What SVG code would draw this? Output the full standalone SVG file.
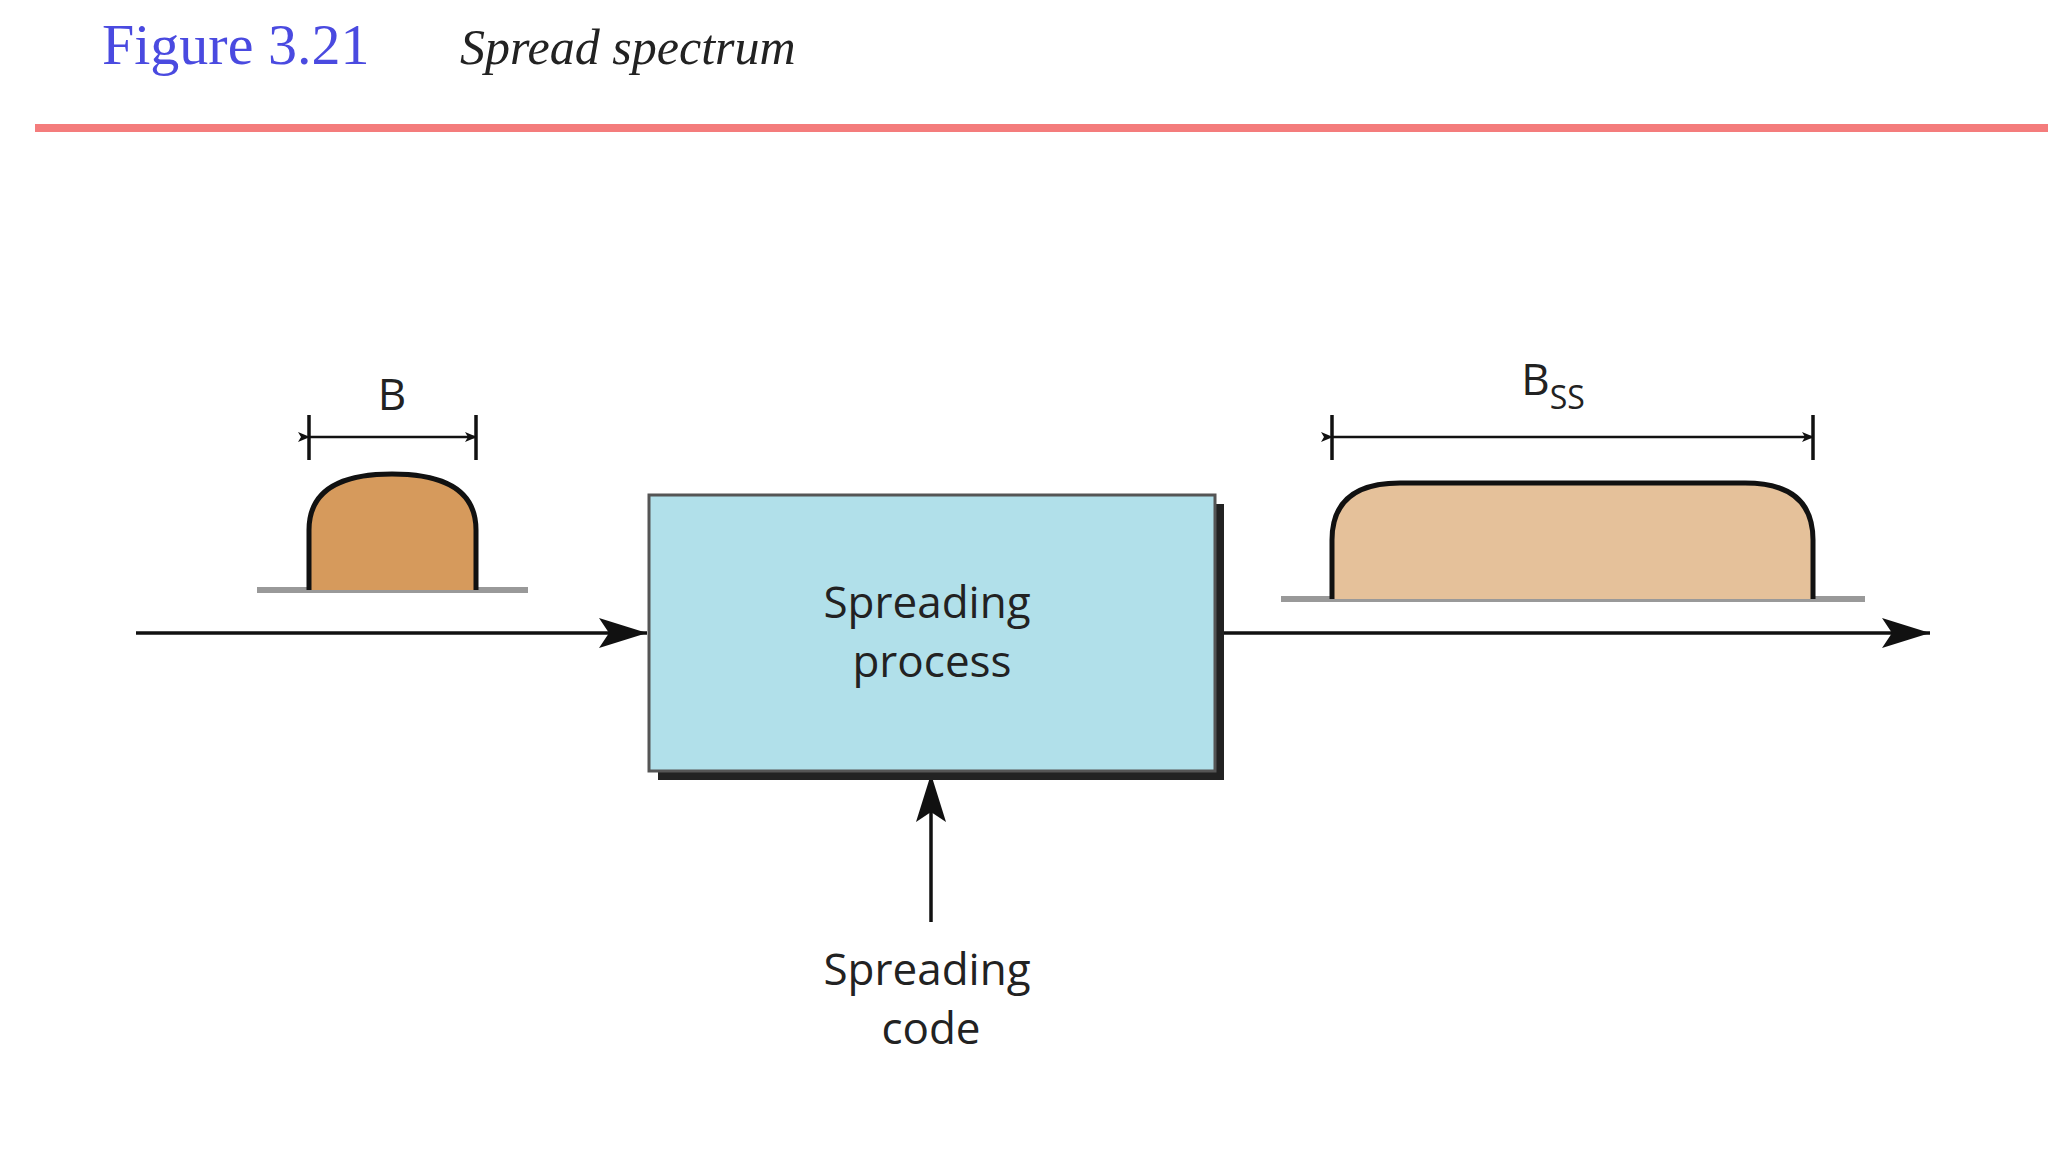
<svg xmlns="http://www.w3.org/2000/svg" width="2048" height="1152" viewBox="0 0 2048 1152">
<defs>
<style>
.lbl{font-family:"Open Sans","Liberation Sans",sans-serif;font-size:44px;fill:#222;text-anchor:middle}
.ln{stroke:#111;stroke-width:3.5;fill:none}
.base{stroke:#999;stroke-width:6}
</style>
<marker id="ah" markerWidth="12" markerHeight="10" refX="11" refY="5" orient="auto" markerUnits="userSpaceOnUse" viewBox="0 0 12 10"><path d="M0,0 L12,5 L0,10 L3,5Z" fill="#111"/></marker>
<marker id="big" markerWidth="50" markerHeight="30" refX="48" refY="15" orient="auto" markerUnits="userSpaceOnUse"><path d="M0,0 L48,15 L0,30 L10,15Z" fill="#111"/></marker>
</defs>
<rect width="2048" height="1152" fill="#fff"/>
<text x="102" y="64" font-family="Liberation Serif,serif" font-size="58" fill="#4a4ae0">Figure 3.21</text>
<text x="460" y="64" font-family="Liberation Serif,serif" font-size="50" font-style="italic" fill="#222">Spread spectrum</text>
<line x1="35" y1="128" x2="2048" y2="128" stroke="#f47c7c" stroke-width="8"/>
<g id="connectors">
<line class="ln" x1="136" y1="633" x2="647" y2="633" marker-end="url(#big)"/>
<line class="ln" x1="1215" y1="633" x2="1930" y2="633" marker-end="url(#big)"/>
<line class="ln" x1="931" y1="922" x2="931" y2="774" marker-end="url(#big)"/>
</g>
<g id="narrow">
<line class="base" x1="257" y1="590" x2="528" y2="590"/>
<path d="M309,590 V530 Q309,474 392,474 Q476,474 476,530 V590" fill="#d69a5c" stroke="#111" stroke-width="5"/>
<line class="ln" x1="309" y1="415" x2="309" y2="460"/><line class="ln" x1="476" y1="415" x2="476" y2="460"/>
<line class="ln" x1="309" y1="437" x2="476" y2="437" marker-end="url(#ah)" marker-start="url(#ah)" style="stroke-width:2.5"/>
<text class="lbl" x="392" y="410" font-size="40">B</text>
</g>
<g id="box">
<rect x="658" y="504" width="566" height="276" fill="#222"/>
<rect x="649" y="495" width="566" height="276" fill="#b1e0ea" stroke="#555" stroke-width="3"/>
<text class="lbl" x="927" y="618">Spreading</text>
<text class="lbl" x="932" y="677">process</text>
</g>
<g id="wide">
<line class="base" x1="1281" y1="599" x2="1865" y2="599"/>
<path d="M1332,599 V540 Q1332,483 1400,483 H1745 Q1813,483 1813,540 V599" fill="#e5c19a" stroke="#111" stroke-width="5"/>
<line class="ln" x1="1332" y1="415" x2="1332" y2="460"/><line class="ln" x1="1813" y1="415" x2="1813" y2="460"/>
<line class="ln" x1="1332" y1="437" x2="1813" y2="437" marker-end="url(#ah)" marker-start="url(#ah)" style="stroke-width:2.5"/>
<text class="lbl" x="1553" y="395" font-size="40">B<tspan font-size="32" dy="14">SS</tspan></text>
</g>
<g id="code">
<text class="lbl" x="927" y="985">Spreading</text>
<text class="lbl" x="931" y="1044">code</text>
</g>
</svg>
